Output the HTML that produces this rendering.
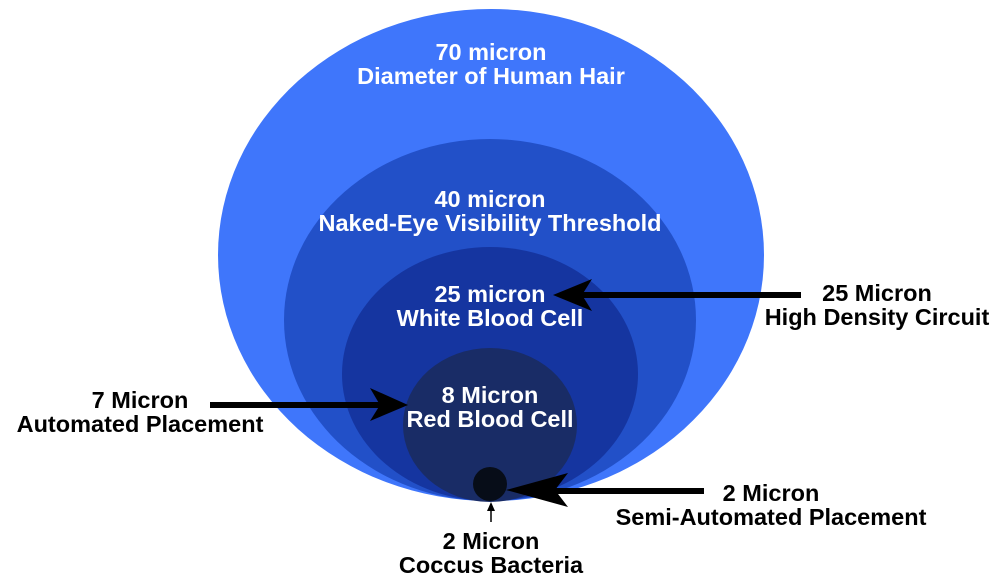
<!DOCTYPE html>
<html><head><style>
body{margin:0;width:994px;height:576px;background:#fff;overflow:hidden}
svg{display:block}
text{font-family:"Liberation Sans",sans-serif;font-weight:bold;font-size:23.5px;text-anchor:middle}
.w{fill:#fff}.b{fill:#000}
</style></head><body>
<svg width="994" height="576" viewBox="0 0 994 576">
<ellipse cx="491" cy="255" rx="273" ry="246" fill="#3f76fb"/>
<ellipse cx="490" cy="320" rx="206" ry="181" fill="#2250c8"/>
<ellipse cx="490" cy="374" rx="148" ry="127" fill="#1535a0"/>
<ellipse cx="490" cy="425" rx="87" ry="77" fill="#192c66"/>
<circle cx="490" cy="484" r="17" fill="#070d18"/>
<text class="w" x="491" y="60">70 micron</text>
<text class="w" x="491" y="84">Diameter of Human Hair</text>
<text class="w" x="490" y="207">40 micron</text>
<text class="w" x="490" y="231">Naked-Eye Visibility Threshold</text>
<text class="w" x="490" y="302">25 micron</text>
<text class="w" x="490" y="326">White Blood Cell</text>
<text class="w" x="490" y="403">8 Micron</text>
<text class="w" x="490" y="427">Red Blood Cell</text>
<rect x="580" y="292" width="221" height="6" fill="#000"/>
<polygon points="553,295 592,279 582,295 592,311" fill="#000"/>
<rect x="210" y="402" width="175" height="6" fill="#000"/>
<polygon points="408,405 370,388 380,405 370,421" fill="#000"/>
<rect x="550" y="488" width="154" height="6" fill="#000"/>
<polygon points="506,490 568,473 555,490 568,507" fill="#000"/>
<line x1="491" y1="522" x2="491" y2="504" stroke="#000" stroke-width="1.5"/>
<polygon points="491,502 487,511 495,511" fill="#000"/>
<text class="b" x="877" y="301">25 Micron</text>
<text class="b" x="877" y="325">High Density Circuit</text>
<text class="b" x="140" y="408">7 Micron</text>
<text class="b" x="140" y="432">Automated Placement</text>
<text class="b" x="771" y="501">2 Micron</text>
<text class="b" x="771" y="525">Semi-Automated Placement</text>
<text class="b" x="491" y="549">2 Micron</text>
<text class="b" x="491" y="573">Coccus Bacteria</text>
</svg>
</body></html>
